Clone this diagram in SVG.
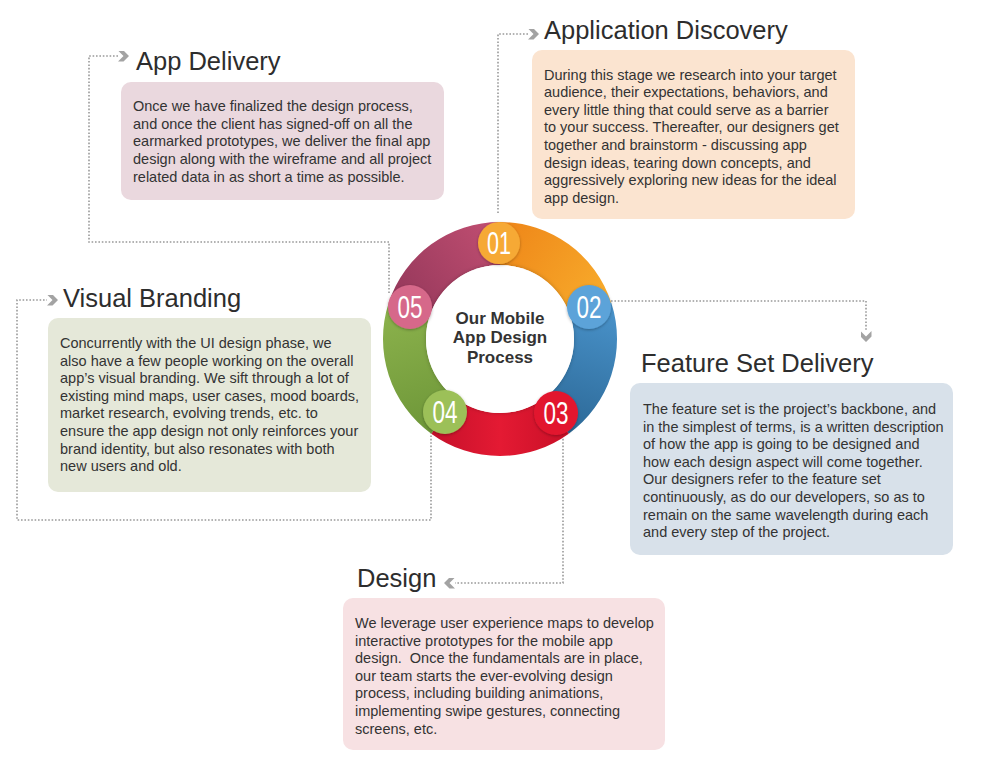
<svg xmlns="http://www.w3.org/2000/svg" width="1000" height="771" viewBox="0 0 1000 771">
<style>
.title{font-family:"Liberation Sans",Arial,sans-serif;font-size:25.5px;fill:#2d2d2d}
.body{font-family:"Liberation Sans",Arial,sans-serif;font-size:14.5px;fill:#333}
.num{font-family:"Liberation Sans",Arial,sans-serif;font-size:32px;fill:#fff;text-anchor:middle}
.center{font-family:"Liberation Sans",Arial,sans-serif;font-size:17px;font-weight:bold;fill:#333;text-anchor:middle}
.dot{fill:none;stroke:#999;stroke-width:1.6;stroke-dasharray:1.6 1.8}
</style>
<defs>
<marker id="chev" viewBox="0 0 10 10" refX="0" refY="5" markerWidth="11" markerHeight="11" markerUnits="userSpaceOnUse" orient="auto">
<path d="M0,0 L5,0 L10,5 L5,10 L0,10 L5,5 Z" fill="#a3a3a3"/>
</marker>
<filter id="sh" x="-30%" y="-30%" width="160%" height="160%">
<feDropShadow dx="0" dy="1" stdDeviation="1.5" flood-color="#000" flood-opacity="0.3"/>
</filter>
<filter id="ish" x="-20%" y="-20%" width="140%" height="140%">
<feDropShadow dx="0" dy="0" stdDeviation="2" flood-color="#000" flood-opacity="0.25"/>
</filter>
<linearGradient id="gO" gradientUnits="userSpaceOnUse" x1="500" y1="222" x2="611" y2="303">
<stop offset="0" stop-color="#ee8518"/><stop offset="1" stop-color="#f8ad2c"/></linearGradient>
<linearGradient id="gB" gradientUnits="userSpaceOnUse" x1="611" y1="303" x2="569" y2="434">
<stop offset="0" stop-color="#4a94cc"/><stop offset="1" stop-color="#2c6896"/></linearGradient>
<linearGradient id="gR" gradientUnits="userSpaceOnUse" x1="569" y1="434" x2="431" y2="434">
<stop offset="0" stop-color="#c80f27"/><stop offset="0.5" stop-color="#e41a33"/><stop offset="1" stop-color="#c5102a"/></linearGradient>
<linearGradient id="gG" gradientUnits="userSpaceOnUse" x1="431" y1="434" x2="389" y2="303">
<stop offset="0" stop-color="#6d9638"/><stop offset="1" stop-color="#8db34d"/></linearGradient>
<linearGradient id="gM" gradientUnits="userSpaceOnUse" x1="389" y1="303" x2="500" y2="222">
<stop offset="0" stop-color="#93375a"/><stop offset="1" stop-color="#c24f72"/></linearGradient>
</defs>

<g id="connectors">
<path class="dot" d="M389,293 V242 H89 V56 H118" marker-end="url(#chev)"/>
<path class="dot" d="M498,213 V34 H528" marker-end="url(#chev)"/>
<path class="dot" d="M611,301 H866 V331" marker-end="url(#chev)"/>
<path class="dot" d="M431,432 V520 H17 V300 H47" marker-end="url(#chev)"/>
<path class="dot" d="M563,432 V583 H455" marker-end="url(#chev)"/>
</g>

<g id="ring">
<path d="M500,222 A117,117 0 0 1 611.28,302.85 L570.38,316.13 A74,74 0 0 0 500,265 Z" fill="url(#gO)"/>
<path d="M611.28,302.85 A117,117 0 0 1 568.77,433.66 L543.5,398.87 A74,74 0 0 0 570.38,316.13 Z" fill="url(#gB)"/>
<path d="M568.77,433.66 A117,117 0 0 1 431.23,433.66 L456.5,398.87 A74,74 0 0 0 543.5,398.87 Z" fill="url(#gR)"/>
<path d="M431.23,433.66 A117,117 0 0 1 388.72,302.85 L429.62,316.13 A74,74 0 0 0 456.5,398.87 Z" fill="url(#gG)"/>
<path d="M388.72,302.85 A117,117 0 0 1 500,222 L500,265 A74,74 0 0 0 429.62,316.13 Z" fill="url(#gM)"/>
<circle cx="500" cy="339" r="74" fill="#fff" filter="url(#ish)"/>
<text class="center" x="500" y="324">Our Mobile</text>
<text class="center" x="500" y="343">App Design</text>
<text class="center" x="500" y="363">Process</text>
</g>

<g id="badge-01"><circle cx="499" cy="243" r="21" fill="#f6a935" filter="url(#sh)"/><text class="num" x="499" y="254" textLength="24" lengthAdjust="spacingAndGlyphs">01</text></g>
<g id="badge-02"><circle cx="589" cy="307" r="22" fill="#5ba3d9" filter="url(#sh)"/><text class="num" x="589" y="318" textLength="25" lengthAdjust="spacingAndGlyphs">02</text></g>
<g id="badge-03"><circle cx="556" cy="413" r="22" fill="#e2162f" filter="url(#sh)"/><text class="num" x="556" y="424" textLength="25" lengthAdjust="spacingAndGlyphs">03</text></g>
<g id="badge-04"><circle cx="445" cy="412" r="22" fill="#9cc059" filter="url(#sh)"/><text class="num" x="445" y="423" textLength="25" lengthAdjust="spacingAndGlyphs">04</text></g>
<g id="badge-05"><circle cx="410" cy="307" r="22" fill="#d6688a" filter="url(#sh)"/><text class="num" x="410" y="318" textLength="25" lengthAdjust="spacingAndGlyphs">05</text></g>

<g id="app-delivery">
<text class="title" x="136" y="70">App Delivery</text>
<rect x="121" y="82" width="323" height="118" rx="10" fill="#ead8de"/>
<text class="body" x="133" y="111">Once we have finalized the design process,</text>
<text class="body" x="133" y="128.7">and once the client has signed-off on all the</text>
<text class="body" x="133" y="146.4">earmarked prototypes, we deliver the final app</text>
<text class="body" x="133" y="164.1">design along with the wireframe and all project</text>
<text class="body" x="133" y="181.8">related data in as short a time as possible.</text>
</g>

<g id="application-discovery">
<text class="title" x="544" y="39">Application Discovery</text>
<rect x="532" y="50" width="323" height="169" rx="10" fill="#fbe4d0"/>
<text class="body" x="544" y="79.5">During this stage we research into your target</text>
<text class="body" x="544" y="97.1">audience, their expectations, behaviors, and</text>
<text class="body" x="544" y="114.7">every little thing that could serve as a barrier</text>
<text class="body" x="544" y="132.3">to your success. Thereafter, our designers get</text>
<text class="body" x="544" y="149.9">together and brainstorm - discussing app</text>
<text class="body" x="544" y="167.5">design ideas, tearing down concepts, and</text>
<text class="body" x="544" y="185.1">aggressively exploring new ideas for the ideal</text>
<text class="body" x="544" y="202.7">app design.</text>
</g>

<g id="feature-set-delivery">
<text class="title" x="641" y="372">Feature Set Delivery</text>
<rect x="630" y="383" width="323" height="172" rx="10" fill="#d8e1ea"/>
<text class="body" x="643" y="414">The feature set is the project’s backbone, and</text>
<text class="body" x="643" y="431.6">in the simplest of terms, is a written description</text>
<text class="body" x="643" y="449.2">of how the app is going to be designed and</text>
<text class="body" x="643" y="466.8">how each design aspect will come together.</text>
<text class="body" x="643" y="484.4">Our designers refer to the feature set</text>
<text class="body" x="643" y="502">continuously, as do our developers, so as to</text>
<text class="body" x="643" y="519.6">remain on the same wavelength during each</text>
<text class="body" x="643" y="537.2">and every step of the project.</text>
</g>

<g id="visual-branding">
<text class="title" x="63" y="307">Visual Branding</text>
<rect x="48" y="318" width="323" height="174" rx="10" fill="#e5e8d9"/>
<text class="body" x="60" y="348">Concurrently with the UI design phase, we</text>
<text class="body" x="60" y="365.6">also have a few people working on the overall</text>
<text class="body" x="60" y="383.2">app’s visual branding. We sift through a lot of</text>
<text class="body" x="60" y="400.8">existing mind maps, user cases, mood boards,</text>
<text class="body" x="60" y="418.4">market research, evolving trends, etc. to</text>
<text class="body" x="60" y="436">ensure the app design not only reinforces your</text>
<text class="body" x="60" y="453.6">brand identity, but also resonates with both</text>
<text class="body" x="60" y="471.2">new users and old.</text>
</g>

<g id="design">
<text class="title" x="357" y="587">Design</text>
<rect x="343" y="598" width="322" height="152" rx="10" fill="#f7e1e3"/>
<text class="body" x="355" y="628">We leverage user experience maps to develop</text>
<text class="body" x="355" y="645.6">interactive prototypes for the mobile app</text>
<text class="body" x="355" y="663.2">design.&#160; Once the fundamentals are in place,</text>
<text class="body" x="355" y="680.8">our team starts the ever-evolving design</text>
<text class="body" x="355" y="698.4">process, including building animations,</text>
<text class="body" x="355" y="716">implementing swipe gestures, connecting</text>
<text class="body" x="355" y="733.6">screens, etc.</text>
</g>
</svg>
